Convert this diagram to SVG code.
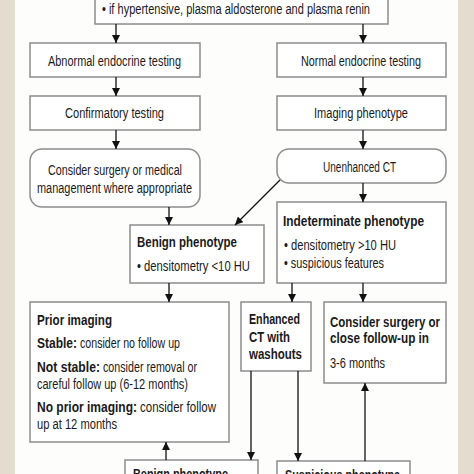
<svg xmlns="http://www.w3.org/2000/svg" width="474" height="474" viewBox="0 0 474 474">
<defs>
<marker id="ah" viewBox="0 0 10 10" refX="10" refY="5" markerWidth="8" markerHeight="8" markerUnits="userSpaceOnUse" orient="auto">
<path d="M0,0 L10,5 L0,10 Z" fill="#111"/>
</marker>
<style>
.box{fill:#fff;stroke:#8c8c8c;stroke-width:1.5}
.t{font-family:"Liberation Sans",Arial,sans-serif;font-size:15.5px;fill:#1a1a1a}
.b{font-weight:bold}
.c{stroke:#111;stroke-width:1.3;fill:none;marker-end:url(#ah)}
</style>
</defs>
<rect x="0" y="0" width="474" height="474" fill="#fdfdfc"/>
<rect x="0" y="0" width="15" height="474" fill="#e5dcd0"/>
<rect x="458" y="0" width="16" height="474" fill="#e5dcd0"/>

<g id="n-top">
<rect class="box" x="95" y="-20" width="293" height="44"/>
<text class="t" x="102" y="14" textLength="268" lengthAdjust="spacingAndGlyphs">• if hypertensive, plasma aldosterone and plasma renin</text>
</g>
<g id="n-abnormal">
<rect class="box" x="30" y="43" width="170" height="34"/>
<text class="t" x="48" y="66" textLength="133" lengthAdjust="spacingAndGlyphs">Abnormal endocrine testing</text>
</g>
<g id="n-confirm">
<rect class="box" x="30" y="96" width="170" height="34"/>
<text class="t" x="65" y="118" textLength="99" lengthAdjust="spacingAndGlyphs">Confirmatory testing</text>
</g>
<g id="n-surgery">
<rect class="box" x="30" y="149" width="170" height="58" rx="12"/>
<text class="t" x="48" y="175" textLength="134" lengthAdjust="spacingAndGlyphs">Consider surgery or medical</text>
<text class="t" x="37" y="193" textLength="155" lengthAdjust="spacingAndGlyphs">management where appropriate</text>
</g>
<g id="n-normal">
<rect class="box" x="277" y="43" width="169" height="34"/>
<text class="t" x="301" y="66" textLength="120" lengthAdjust="spacingAndGlyphs">Normal endocrine testing</text>
</g>
<g id="n-imaging">
<rect class="box" x="277" y="96" width="169" height="34"/>
<text class="t" x="314" y="118" textLength="94" lengthAdjust="spacingAndGlyphs">Imaging phenotype</text>
</g>
<g id="n-unenhanced">
<rect class="box" x="277" y="149" width="169" height="34" rx="12"/>
<text class="t" x="323" y="172" textLength="73" lengthAdjust="spacingAndGlyphs">Unenhanced CT</text>
</g>
<g id="n-indeterminate">
<rect class="box" x="277" y="202" width="169" height="81"/>
<text class="t b" x="283" y="226" textLength="141" lengthAdjust="spacingAndGlyphs">Indeterminate phenotype</text>
<text class="t" x="284" y="250" textLength="112" lengthAdjust="spacingAndGlyphs">• densitometry &gt;10 HU</text>
<text class="t" x="284" y="268" textLength="100" lengthAdjust="spacingAndGlyphs">• suspicious features</text>
</g>
<g id="n-benign">
<rect class="box" x="130" y="225" width="134" height="58"/>
<text class="t b" x="137" y="247" textLength="100" lengthAdjust="spacingAndGlyphs">Benign phenotype</text>
<text class="t" x="137" y="271" textLength="113" lengthAdjust="spacingAndGlyphs">• densitometry &lt;10 HU</text>
</g>
<g id="n-prior">
<rect class="box" x="30" y="302" width="199" height="140"/>
<text class="t b" x="37" y="325" textLength="75" lengthAdjust="spacingAndGlyphs">Prior imaging</text>
<text class="t b" x="37" y="348" textLength="40" lengthAdjust="spacingAndGlyphs">Stable:</text>
<text class="t" x="80" y="348" textLength="100" lengthAdjust="spacingAndGlyphs">consider no follow up</text>
<text class="t b" x="37" y="372" textLength="63" lengthAdjust="spacingAndGlyphs">Not stable:</text>
<text class="t" x="103" y="372" textLength="94" lengthAdjust="spacingAndGlyphs">consider removal or</text>
<text class="t" x="37" y="389" textLength="151" lengthAdjust="spacingAndGlyphs">careful follow up (6-12 months)</text>
<text class="t b" x="37" y="412" textLength="100" lengthAdjust="spacingAndGlyphs">No prior imaging:</text>
<text class="t" x="140" y="412" textLength="76" lengthAdjust="spacingAndGlyphs">consider follow</text>
<text class="t" x="37" y="429" textLength="80" lengthAdjust="spacingAndGlyphs">up at 12 months</text>
</g>
<g id="n-enhanced">
<rect class="box" x="241" y="302" width="70" height="69"/>
<text class="t b" x="249" y="324" textLength="51" lengthAdjust="spacingAndGlyphs">Enhanced</text>
<text class="t b" x="249" y="342" textLength="41" lengthAdjust="spacingAndGlyphs">CT with</text>
<text class="t b" x="249" y="359" textLength="53" lengthAdjust="spacingAndGlyphs">washouts</text>
</g>
<g id="n-close">
<rect class="box" x="324" y="302" width="122" height="81"/>
<text class="t b" x="330" y="327" textLength="110" lengthAdjust="spacingAndGlyphs">Consider surgery or</text>
<text class="t b" x="330" y="343" textLength="99" lengthAdjust="spacingAndGlyphs">close follow-up in</text>
<text class="t" x="330" y="368" textLength="55" lengthAdjust="spacingAndGlyphs">3-6 months</text>
</g>
<g id="n-benign2">
<rect class="box" x="125" y="460" width="133" height="40"/>
<text class="t b" x="133" y="479" textLength="95" lengthAdjust="spacingAndGlyphs">Benign phenotype</text>
</g>
<g id="n-susp2">
<rect class="box" x="277" y="461" width="133" height="40"/>
<text class="t b" x="285" y="480" textLength="115" lengthAdjust="spacingAndGlyphs">Suspicious phenotype</text>
</g>

<g id="connectors">
<line class="c" x1="116" y1="24" x2="116" y2="43"/>
<line class="c" x1="116" y1="77" x2="116" y2="96"/>
<line class="c" x1="116" y1="130" x2="116" y2="149"/>
<line class="c" x1="363" y1="24" x2="363" y2="43"/>
<line class="c" x1="363" y1="77" x2="363" y2="96"/>
<line class="c" x1="363" y1="130" x2="363" y2="149"/>
<line class="c" x1="363" y1="183" x2="363" y2="202"/>
<line class="c" x1="280" y1="180" x2="235" y2="225"/>
<line class="c" x1="169" y1="207" x2="169" y2="225"/>
<line class="c" x1="169" y1="283" x2="169" y2="302"/>
<line class="c" x1="292" y1="283" x2="292" y2="302"/>
<line class="c" x1="363" y1="283" x2="363" y2="302"/>
<line class="c" x1="166" y1="460" x2="166" y2="442"/>
<line class="c" x1="251" y1="371" x2="251" y2="460"/>
<line class="c" x1="298" y1="371" x2="298" y2="461"/>
<line class="c" x1="365" y1="461" x2="365" y2="383"/>
</g>
</svg>
